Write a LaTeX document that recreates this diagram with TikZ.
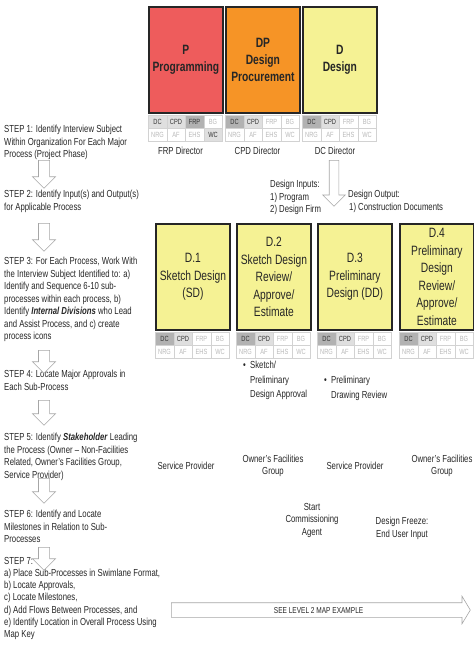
\documentclass[tikz,border=0pt]{standalone}
\usepackage{fontspec}
\setmainfont{Liberation Sans}[FakeStretch=0.76]
\usepackage{xcolor}
\usepackage{tikz}
\usetikzlibrary{shapes.arrows,positioning}
\definecolor{progred}{RGB}{238,92,92}
\definecolor{procorange}{RGB}{246,148,38}
\definecolor{designyellow}{RGB}{245,242,148}
\tikzstyle{every node}=[inner sep=0pt,text=black!85]
\tikzstyle{phase}=[draw=black!85,line width=1.8pt,minimum width=74pt,minimum height=106pt,anchor=north west,align=center,font=\fontsize{13.5}{17.5}\selectfont]
\tikzstyle{toplevel}=[phase,font=\fontsize{13.5}{17}\selectfont\bfseries]
\tikzstyle{cell}=[draw=gray!35,line width=0.5pt,minimum width=18.5pt,minimum height=13pt,anchor=north west,font=\fontsize{7.5}{8}\selectfont]
\tikzstyle{lead}=[fill=gray!60,text=black!80]
\tikzstyle{assist}=[fill=gray!25,text=black!80]
\tikzstyle{idle}=[fill=white,text=gray!55]
\tikzstyle{steptext}=[anchor=north west,align=left,font=\fontsize{10.2}{12.5}\selectfont]
\tikzstyle{note}=[align=center,font=\fontsize{10.2}{12.5}\selectfont]
\tikzstyle{hollow}=[single arrow,draw=gray!70,fill=white,line width=0.6pt,shape border rotate=270,inner sep=5.25pt,single arrow head extend=6pt,single arrow head indent=0pt,anchor=tail]
\newcommand{\divgrid}[9]{%
	\foreach \lbl/\st/\col/\row in {DC/#2/0/0,CPD/#3/1/0,FRP/#4/2/0,BG/#5/3/0,NRG/#6/0/1,AF/#7/1/1,EHS/#8/2/1,WC/#9/3/1}
		\node[cell,\st] (#1-\lbl) at ([xshift=\col*18.5pt,yshift=-\row*13pt-0.9pt]#1.south west) {\lbl};
}

\begin{document}
\begin{tikzpicture}[x=1pt,y=-1pt]
	\useasboundingbox (0,0) rectangle (474,654);

	\node[toplevel,fill=progred] (P) at (148,6) {P\\Programming};
	\node[toplevel,fill=procorange] (DP) at (225,6) {DP\\Design\\Procurement};
	\node[toplevel,fill=designyellow] (D) at (302,6) {D\\Design};
	\divgrid{P}{assist}{assist}{lead}{idle}{idle}{idle}{idle}{assist}
	\divgrid{DP}{lead}{assist}{idle}{idle}{idle}{idle}{idle}{idle}
	\divgrid{D}{lead}{assist}{idle}{idle}{idle}{idle}{idle}{idle}

	\node[note] (frp) at (180.5,151) {FRP Director};
	\node[note] (cpd) at (257.5,151) {CPD Director};
	\node[note] (dc) at (335,151) {DC Director};

	\node[hollow,minimum height=46pt,inner sep=4.5pt,single arrow head extend=6.5pt] (darrow) at (334,160) {};
	\node[steptext] (inputs) at (270,180) {Design Inputs:\\1) Program\\2) Design Firm};
	\node[steptext] (outputs) at (348,190) {Design Output:\\\hspace*{1pt}1) Construction Documents};

	\node[phase,fill=designyellow] (D1) at (155,223) {D.1\\Sketch Design\\(SD)};
	\node[phase,fill=designyellow] (D2) at (236,223) {D.2\\Sketch Design\\Review/\\Approve/\\Estimate};
	\node[phase,fill=designyellow] (D3) at (317,223) {D.3\\Preliminary\\Design (DD)};
	\node[phase,fill=designyellow] (D4) at (399,223) {D.4\\Preliminary\\Design\\Review/\\Approve/\\Estimate};
	\divgrid{D1}{lead}{assist}{idle}{idle}{idle}{idle}{idle}{idle}
	\divgrid{D2}{lead}{assist}{idle}{idle}{idle}{idle}{idle}{idle}
	\divgrid{D3}{lead}{assist}{idle}{idle}{idle}{idle}{idle}{idle}
	\divgrid{D4}{lead}{assist}{idle}{idle}{idle}{idle}{idle}{idle}

	\node[steptext,font=\fontsize{10.2}{14.5}\selectfont] (appr1) at (243,361) {\makebox[7pt][l]{\textbullet}Sketch/\\\hspace*{7pt}Preliminary\\\hspace*{7pt}Design Approval};
	\node[steptext,font=\fontsize{10.2}{14.5}\selectfont] (appr2) at (324,376) {\makebox[7pt][l]{\textbullet}Preliminary\\\hspace*{7pt}Drawing Review};

	\node[note] (sp1) at (186,466) {Service Provider};
	\node[note] (ofg1) at (273,466) {Owner's Facilities\\Group};
	\node[note] (sp2) at (355,466) {Service Provider};
	\node[note] (ofg2) at (442,466) {Owner's Facilities\\Group};

	\node[note] (cx) at (312,520) {Start\\Commissioning\\Agent};
	\node[note] (freeze) at (402,528.5) {Design Freeze:\\End User Input};

	\node[steptext] (s1) at (4,125) {STEP 1: Identify Interview Subject\\Within Organization For Each Major\\Process (Project Phase)};
	\node[steptext] (s2) at (4,190) {STEP 2: Identify Input(s) and Output(s)\\for Applicable Process};
	\node[steptext] (s3) at (4,257) {STEP 3: For Each Process, Work With\\the Interview Subject Identified to: a)\\Identify and Sequence 6-10 sub-\\processes within each process, b)\\Identify \textbf{\textit{Internal Divisions}} who Lead\\and Assist Process, and c) create\\process icons};
	\node[steptext] (s4) at (4,370) {STEP 4: Locate Major Approvals in\\Each Sub-Process};
	\node[steptext] (s5) at (4,433) {STEP 5: Identify \textbf{\textit{Stakeholder}} Leading\\the Process (Owner -- Non-Facilities\\Related, Owner's Facilities Group,\\Service Provider)};
	\node[steptext] (s6) at (4,510) {STEP 6: Identify and Locate\\Milestones in Relation to Sub-\\Processes};
	\node[steptext,font=\fontsize{10.2}{12.2}\selectfont] (s7) at (4,557) {STEP 7:\\a) Place Sub-Processes in Swimlane Format,\\b) Locate Approvals,\\c) Locate Milestones,\\d) Add Flows Between Processes, and\\e) Identify Location in Overall Process Using\\Map Key};

	\node[hollow,minimum height=28pt] (a1) at (44,160) {};
	\node[hollow,minimum height=28pt] (a2) at (44,223) {};
	\node[hollow,minimum height=23pt] (a3) at (44,350) {};
	\node[hollow,minimum height=25pt] (a4) at (44,400) {};
	\node[hollow,minimum height=25pt] (a5) at (44,478) {};
	\node[hollow,minimum height=23pt] (a6) at (44,547) {};

	\node[single arrow,draw=gray!70,fill=white,line width=0.6pt,minimum height=299pt,text height=6.2pt,text depth=0pt,inner xsep=3pt,inner ysep=3.9pt,single arrow head extend=6.5pt,single arrow tip angle=118,anchor=tail,font=\fontsize{8.6}{9}\selectfont] (level2) at (171,610) {SEE LEVEL 2 MAP EXAMPLE};
\end{tikzpicture}
\end{document}
